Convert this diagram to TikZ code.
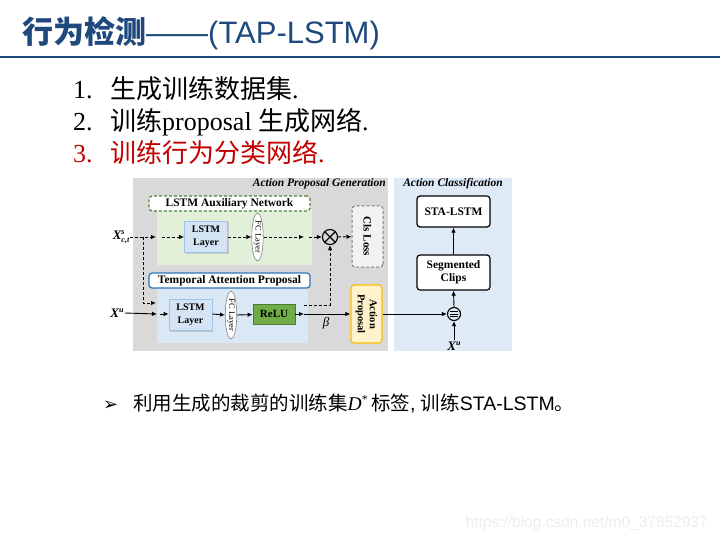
\documentclass[tikz,border=0pt]{standalone}
\usepackage{fontspec}
\setmainfont{Liberation Serif}
\setsansfont{Liberation Sans}
\newfontfamily\cjk{Noto Sans CJK SC}
\newfontfamily\dejavu{DejaVu Sans}
\usetikzlibrary{arrows.meta,shapes.geometric,shadows}
\definecolor{titleblue}{HTML}{1F497D}
\definecolor{redtxt}{HTML}{C00000}
\definecolor{graypanel}{HTML}{D9D9D9}
\definecolor{bluepanel}{HTML}{DEEBF7}
\definecolor{greenreg}{HTML}{E2F0D9}
\definecolor{bluereg}{HTML}{DAE8F6}
\definecolor{lstmfill}{HTML}{D5E4F4}
\definecolor{lstmborder}{HTML}{9DC3E6}
\definecolor{relufill}{HTML}{70AD47}
\definecolor{reluborder}{HTML}{4E7D31}
\definecolor{apfill}{HTML}{FFF2CC}
\definecolor{apborder}{HTML}{FFC000}
\definecolor{clsfill}{HTML}{F2F2F2}
\definecolor{clsborder}{HTML}{7F7F7F}
\definecolor{tapborder}{HTML}{2E75B6}
\definecolor{auxborder}{HTML}{548235}
\definecolor{wmgray}{HTML}{EDEDED}
\tikzset{
  panellbl/.style={inner sep=0, font=\fontsize{11.5}{12}\selectfont\bfseries\itshape},
  hdrbox/.style={rounded corners=3, fill=white, line width=1.2, minimum width=161, minimum height=15, inner sep=0, font=\fontsize{11.5}{12}\selectfont\bfseries},
  layerbox/.style={draw=lstmborder, fill=lstmfill, line width=0.8, minimum width=43, minimum height=31, inner sep=0, align=center, font=\fontsize{10}{12.5}\selectfont\bfseries, drop shadow={shadow xshift=1pt, shadow yshift=-1pt, opacity=0.3}},
  fcnode/.style={ellipse, draw=gray, fill=white, line width=0.6, rotate=-90, minimum width=48, minimum height=11.5, inner sep=0, font=\fontsize{8.5}{9}\selectfont},
  whitebox/.style={draw=black, fill=white, rounded corners=3, line width=1.2, minimum width=73, inner sep=0, align=center, font=\fontsize{11.5}{13}\selectfont\bfseries},
  arr/.style={line width=0.9, -{Latex[length=5pt,width=4.5pt]}},
  dasharr/.style={line width=0.9, dash pattern=on 3pt off 2pt, -{Latex[length=5pt,width=4.5pt]}},
  xlbl/.style={inner sep=1, font=\fontsize{13}{13}\selectfont\bfseries\itshape}
}
\begin{document}
\begin{tikzpicture}[x=1pt,y=-1pt]
\useasboundingbox (0,0) rectangle (720,540);
% title
\node[anchor=base west, inner sep=0, text=titleblue] (title) at (22,44)
  {{\cjk\bfseries\fontsize{31}{31}\selectfont 行为检测}{\sffamily\fontsize{31}{31}\selectfont ——(TAP-LSTM)}};
\draw[titleblue, line width=1.5] (0,57) -- (720,57);
% list
\node[anchor=base west, inner sep=0] (n1) at (73,99) {\fontsize{26}{26}\selectfont 1.};
\node[anchor=base west, inner sep=0] (l1) at (110,99) {\fontsize{26}{26}\selectfont{\cjk 生成训练数据集}.};
\node[anchor=base west, inner sep=0] (n2) at (73,131) {\fontsize{26}{26}\selectfont 2.};
\node[anchor=base west, inner sep=0] (l2) at (110,131) {\fontsize{26}{26}\selectfont{\cjk 训练}proposal {\cjk 生成网络}.};
\node[anchor=base west, inner sep=0, text=redtxt] (n3) at (73,163) {\fontsize{26}{26}\selectfont 3.};
\node[anchor=base west, inner sep=0, text=redtxt] (l3) at (110,163) {\fontsize{26}{26}\selectfont{\cjk 训练行为分类网络}.};
% panels
\node[fill=graypanel, anchor=north west, minimum width=255, minimum height=173, inner sep=0] (gen) at (133,178) {};
\node[fill=bluepanel, anchor=north west, minimum width=118, minimum height=173, inner sep=0] (cls) at (394,178) {};
\node[panellbl, anchor=north east] (genlbl) at (386,178) {Action Proposal Generation};
\node[panellbl, anchor=north] (clslbl) at (453,178.5) {Action Classification};
% regions
\node[fill=greenreg, anchor=north west, minimum width=155, minimum height=56, inner sep=0] (greg) at (157,209) {};
\node[fill=bluereg, anchor=north west, minimum width=151, minimum height=56, inner sep=0] (breg) at (157,287) {};
\node[hdrbox, draw=auxborder, dash pattern=on 3pt off 2pt] (aux) at (229.5,203.5) {LSTM Auxiliary Network};
\node[hdrbox, draw=tapborder] (tap) at (229.5,280.5) {Temporal Attention Proposal};
% top row
\node[xlbl] (xs) at (121,237) {X\rlap{\raisebox{5pt}{\fontsize{8}{8}\selectfont s}}\raisebox{-3pt}{\fontsize{8}{8}\selectfont c,t}};
\node[layerbox] (lstm1) at (206,237) {LSTM\\Layer};
\node[fcnode] (fc1) at (257.5,237) {FC Layer};
\node[circle, draw, line width=1.1, minimum size=15, inner sep=0] (ot) at (330,237) {};
\draw[line width=1.1] (ot.45) -- (ot.225) (ot.135) -- (ot.315);
\node[draw=clsborder, fill=clsfill, dash pattern=on 3pt off 2pt, line width=1, rounded corners=3, rotate=-90, minimum width=61, minimum height=31, inner sep=0, font=\fontsize{11}{12}\selectfont\bfseries] (loss) at (367.5,236.5) {Cls Loss};
\coordinate (g0) at (156,237);
\coordinate (g1) at (162,237);
\coordinate (g3) at (304,237);
\coordinate (g4) at (309,237);
\coordinate (jn) at (143,237);
\coordinate (g2) at (156,303);
\draw[dasharr] (xs.east) -- (g0);
\draw[dasharr] (g1) -- (lstm1);
\draw[dasharr] (lstm1) -- (fc1);
\draw[dasharr] (fc1) -- (g3);
\draw[dasharr] (g4) -- (ot);
\draw[dasharr] (ot) -- (loss);
\draw[dasharr] (jn) |- (g2);
% bottom row
\node[xlbl] (xu) at (117,313) {X\raisebox{5pt}{\fontsize{8}{8}\selectfont u}};
\node[layerbox] (lstm2) at (190.5,315) {LSTM\\Layer};
\node[fcnode] (fc2) at (231,315) {FC Layer};
\node[draw=reluborder, fill=relufill, line width=0.8, minimum width=42, minimum height=20, inner sep=0, font=\fontsize{11}{12}\selectfont\bfseries] (relu) at (274,314) {ReLU};
\node[draw=apborder, fill=apfill, line width=1.2, rounded corners=3, rotate=-90, minimum width=58, minimum height=31, inner sep=0, align=center, font=\fontsize{10.5}{12}\selectfont\bfseries] (ap) at (366.5,314) {Action\\Proposal};
\coordinate (b0) at (157,314);
\coordinate (b1) at (160,314);
\coordinate (r1) at (304,314);
\coordinate (d0) at (304,305);
\draw[arr] (xu.east) -- (b0);
\draw[arr] (b1) -- (lstm2.west |- b1);
\draw[arr] (lstm2.east |- b1) -- (fc2.south);
\draw[arr] (fc2.north) -- (relu);
\draw[arr] (relu) -- (r1);
\draw[arr] (r1) -- (ap.south);
\draw[dasharr] (d0) -| (ot.south);
\node[inner sep=0, font=\fontsize{13}{13}\selectfont\itshape] (beta) at (326,323) {β};
% classification column
\node[whitebox, minimum height=31] (sta) at (453.5,211.5) {STA-LSTM};
\node[whitebox, minimum height=35] (clips) at (453.5,272.5) {Segmented\\Clips};
\node[circle, draw, line width=1.1, minimum size=13, inner sep=0] (eq) at (454,314) {};
\foreach \d in {-2.3,0,2.3}
  \draw[line width=0.9] ([xshift=-3.6pt,yshift=\d pt]eq.center) -- ([xshift=3.6pt,yshift=\d pt]eq.center);
\node[xlbl] (xu2) at (454,346) {X\raisebox{5pt}{\fontsize{8}{8}\selectfont u}};
\draw[arr] (ap.north) -- (eq.west);
\draw[arr] (xu2.north) -- (eq.south);
\draw[arr] (eq.north) -- (clips.south);
\draw[arr] (clips.north) -- (sta.south);
% bullet
\node[anchor=base west, inner sep=0] (bul) at (103,410) {\dejavu\bfseries\fontsize{18}{18}\selectfont ➢};
\node[anchor=base west, inner sep=0] (btxt) at (133,410) {\fontsize{19.5}{19.5}\selectfont{\cjk 利用生成的裁剪的训练集}{\itshape D}\raisebox{7pt}{\fontsize{12}{12}\selectfont*}\,{\cjk 标签}{\sffamily , }{\cjk 训练}{\sffamily STA-LSTM}{\cjk 。}};
% watermark
\node[anchor=base east, inner sep=0, text=wmgray] (wm) at (708,527) {\sffamily\fontsize{15.5}{15.5}\selectfont https://blog.csdn.net/m0\_37852937};
\end{tikzpicture}
\end{document}
